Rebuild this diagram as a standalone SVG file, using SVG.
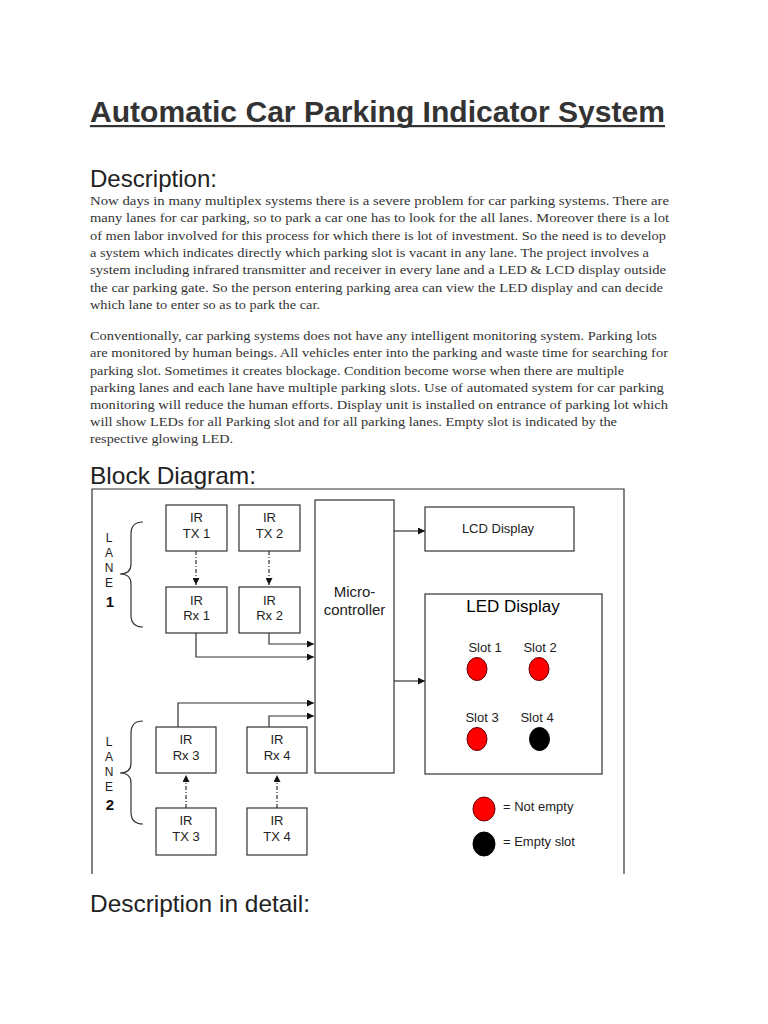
<svg xmlns="http://www.w3.org/2000/svg" width="768" height="1024" viewBox="0 0 768 1024">
<style>
.h{font-family:"Liberation Sans",Arial,sans-serif;fill:#222}
.b{font-family:"Liberation Serif","Times New Roman",serif;font-size:13.5px;fill:#333}
.t{font-family:"Liberation Sans",Arial,sans-serif;font-size:13px;fill:#222;text-anchor:middle}
.big{font-size:15px}
.lt{font-size:12px}
.num{font-size:15px;font-weight:bold;fill:#111}
.box{fill:#fff;stroke:#333;stroke-width:1.2}
.ln{fill:none;stroke:#333;stroke-width:1.2}
.dd{fill:none;stroke:#333;stroke-width:1.2;stroke-dasharray:4 2 1 2}
.red{fill:#f00;stroke:#600;stroke-width:1}
.blk{fill:#000;stroke:#000;stroke-width:1}
</style>
<defs>
<marker id="ah" viewBox="0 0 10 10" refX="10" refY="5" markerWidth="8" markerHeight="7" markerUnits="userSpaceOnUse" orient="auto">
<path d="M0,0 L10,5 L0,10 z" fill="#111"/>
</marker>
</defs>
<rect width="768" height="1024" fill="#fff"/>
<text class="h" x="90" y="122" font-size="29" font-weight="bold" textLength="575" lengthAdjust="spacingAndGlyphs" style="fill:#333">Automatic Car Parking Indicator System</text>
<rect x="90" y="125" width="575" height="2.2" fill="#333"/>
<text class="h" x="90" y="187" font-size="24" textLength="127" lengthAdjust="spacingAndGlyphs">Description:</text>
<g class="b">
<text x="90" y="205" textLength="579" lengthAdjust="spacingAndGlyphs">Now days in many multiplex systems there is a severe problem for car parking systems. There are</text>
<text x="90" y="222" textLength="579" lengthAdjust="spacingAndGlyphs">many lanes for car parking, so to park a car one has to look for the all lanes. Moreover there is a lot</text>
<text x="90" y="239.5" textLength="576" lengthAdjust="spacingAndGlyphs">of men labor involved for this process for which there is lot of investment. So the need is to develop</text>
<text x="90" y="257" textLength="559" lengthAdjust="spacingAndGlyphs">a system which indicates directly which parking slot is vacant in any lane. The project involves a</text>
<text x="90" y="274" textLength="576" lengthAdjust="spacingAndGlyphs">system including infrared transmitter and receiver in every lane and a LED &amp; LCD display outside</text>
<text x="90" y="291.5" textLength="573" lengthAdjust="spacingAndGlyphs">the car parking gate. So the person entering parking area can view the LED display and can decide</text>
<text x="90" y="308.5" textLength="230" lengthAdjust="spacingAndGlyphs">which lane to enter so as to park the car.</text>
<text x="90" y="340" textLength="567" lengthAdjust="spacingAndGlyphs">Conventionally, car parking systems does not have any intelligent monitoring system. Parking lots</text>
<text x="90" y="357" textLength="578" lengthAdjust="spacingAndGlyphs">are monitored by human beings. All vehicles enter into the parking and waste time for searching for</text>
<text x="90" y="374.5" textLength="534" lengthAdjust="spacingAndGlyphs">parking slot. Sometimes it creates blockage. Condition become worse when there are multiple</text>
<text x="90" y="391.5" textLength="574" lengthAdjust="spacingAndGlyphs">parking lanes and each lane have multiple parking slots. Use of automated system for car parking</text>
<text x="90" y="409" textLength="578" lengthAdjust="spacingAndGlyphs">monitoring will reduce the human efforts. Display unit is installed on entrance of parking lot which</text>
<text x="90" y="426" textLength="527" lengthAdjust="spacingAndGlyphs">will show LEDs for all Parking slot and for all parking lanes. Empty slot is indicated by the</text>
<text x="90" y="443" textLength="143" lengthAdjust="spacingAndGlyphs">respective glowing LED.</text>
</g>
<text class="h" x="90" y="484" font-size="24" textLength="166" lengthAdjust="spacingAndGlyphs">Block Diagram:</text>
<text class="h" x="90" y="912" font-size="24" textLength="220" lengthAdjust="spacingAndGlyphs">Description in detail:</text>

<g id="frame">
<path class="ln" d="M92,874 L92,489 L624,489 L624,874" stroke-width="1.5"/>
</g>

<g id="connectors">
<path class="dd" d="M196,551 L196,585" marker-end="url(#ah)"/>
<path class="dd" d="M269,551 L269,585" marker-end="url(#ah)"/>
<path class="dd" d="M186,808 L186,775" marker-end="url(#ah)"/>
<path class="dd" d="M277,808 L277,775" marker-end="url(#ah)"/>
<path class="ln" d="M269,633 L269,644 L314,644" marker-end="url(#ah)"/>
<path class="ln" d="M196,633 L196,657 L314,657" marker-end="url(#ah)"/>
<path class="ln" d="M178,727 L178,703 L314,703" marker-end="url(#ah)"/>
<path class="ln" d="M269,727 L269,716 L314,716" marker-end="url(#ah)"/>
<path class="ln" d="M394,531 L425,531" marker-end="url(#ah)"/>
<path class="ln" d="M394,681 L425,681" marker-end="url(#ah)"/>
</g>

<g id="lane1">
<path class="ln" d="M143,522 Q131,522 131,534 L131,564 Q131,574 120,574 Q131,574 131,584 L131,615 Q131,627 143,627"/>
<text class="t lt" x="109" y="542">L</text><text class="t lt" x="109" y="557">A</text><text class="t lt" x="109" y="572">N</text><text class="t lt" x="109" y="587">E</text>
<text class="t num" x="110" y="607">1</text>
</g>
<g id="lane2">
<path class="ln" d="M143,721 Q131,721 131,733 L131,763 Q131,773 120,773 Q131,773 131,783 L131,812 Q131,824 143,824"/>
<text class="t lt" x="109" y="746">L</text><text class="t lt" x="109" y="761">A</text><text class="t lt" x="109" y="776">N</text><text class="t lt" x="109" y="791">E</text>
<text class="t num" x="110" y="810">2</text>
</g>

<g id="tx1"><rect class="box" x="166" y="505" width="61" height="46"/><text class="t" x="196.5" y="522">IR</text><text class="t" x="196.5" y="538">TX 1</text></g>
<g id="tx2"><rect class="box" x="239" y="505" width="61" height="46"/><text class="t" x="269.5" y="522">IR</text><text class="t" x="269.5" y="538">TX 2</text></g>
<g id="rx1"><rect class="box" x="166" y="587" width="61" height="46"/><text class="t" x="196.5" y="605">IR</text><text class="t" x="196.5" y="620">Rx 1</text></g>
<g id="rx2"><rect class="box" x="239" y="587" width="61" height="46"/><text class="t" x="269.5" y="605">IR</text><text class="t" x="269.5" y="620">Rx 2</text></g>
<g id="rx3"><rect class="box" x="156" y="727" width="60" height="46"/><text class="t" x="186" y="744">IR</text><text class="t" x="186" y="760">Rx 3</text></g>
<g id="rx4"><rect class="box" x="247" y="727" width="60" height="46"/><text class="t" x="277" y="744">IR</text><text class="t" x="277" y="760">Rx 4</text></g>
<g id="tx3"><rect class="box" x="156" y="808" width="60" height="47"/><text class="t" x="186" y="825">IR</text><text class="t" x="186" y="841">TX 3</text></g>
<g id="tx4"><rect class="box" x="247" y="808" width="60" height="47"/><text class="t" x="277" y="825">IR</text><text class="t" x="277" y="841">TX 4</text></g>

<g id="micro"><rect class="box" x="315" y="500" width="79" height="273"/><text class="t big" x="354.5" y="597">Micro-</text><text class="t big" x="354.5" y="615">controller</text></g>

<g id="lcd"><rect class="box" x="425" y="507" width="149" height="44"/><text class="t" x="498" y="533">LCD Display</text></g>

<g id="led">
<rect class="box" x="425" y="594" width="177" height="180"/>
<text class="t" x="513" y="612" style="font-size:17px;fill:#000">LED Display</text>
<text class="t" x="485" y="652">Slot 1</text><text class="t" x="540" y="652">Slot 2</text>
<ellipse class="red" cx="477" cy="669" rx="10" ry="11.5"/>
<ellipse class="red" cx="539" cy="669" rx="10" ry="11.5"/>
<text class="t" x="482" y="722">Slot 3</text><text class="t" x="537" y="722">Slot 4</text>
<ellipse class="red" cx="477" cy="739" rx="10" ry="11.5"/>
<ellipse class="blk" cx="539.5" cy="739" rx="10" ry="11.5"/>
</g>

<g id="legend">
<ellipse class="red" cx="484" cy="809" rx="11" ry="12"/>
<text class="t" x="503" y="811" style="text-anchor:start">= Not empty</text>
<ellipse class="blk" cx="484" cy="844" rx="11" ry="12"/>
<text class="t" x="503" y="846" style="text-anchor:start">= Empty slot</text>
</g>
</svg>
